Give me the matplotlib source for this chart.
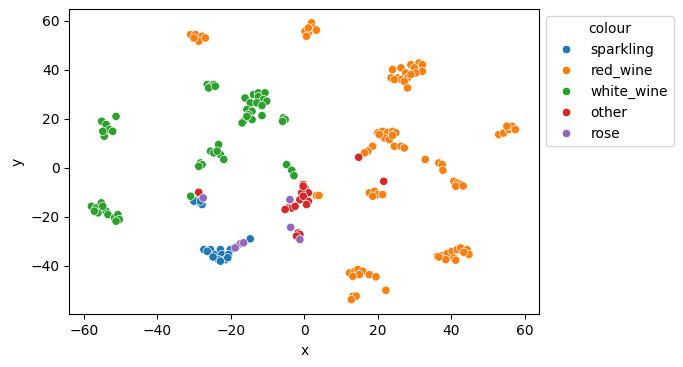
import numpy as np
import pandas as pd
import matplotlib
matplotlib.use("Agg")
import matplotlib.pyplot as plt
import seaborn as sns

categories = ["sparkling", "red_wine", "white_wine", "other", "rose"]

sparkling_x = [-29.6, -28.7, -27.8, -30.0, -28.2, -27.3, -25.5, -26.4, -24.2, -22.8,
               -22.4, -20.1, -20.6, -21.5, -23.3, -22.8, -14.7, -24.8, -20.8]
sparkling_y = [-13.3, -14.1, -15.1, -13.7, -13.7, -33.5, -33.5, -34.2, -35.5, -33.5,
               -35.5, -33.5, -35.5, -37.6, -37.6, -38.2, -29.1, -36.5, -36.8]

red_x = [-30.9, -29.6, -27.8, -28.7, -26.9, -30.0,
         1.1, 0.2, 2.0, 2.4, 3.3, 0.6, 1.1,
         24.0, 26.3, 29.0, 31.2, 32.1, 29.9, 32.1, 30.3, 27.6, 25.4, 23.6, 26.3, 28.1, 29.0, 27.2, 28.1, 24.5,
         20.0, 21.3, 22.7, 24.0, 24.9, 21.8, 23.1, 24.0, 24.5, 26.3, 27.2, 18.6, 17.3, 16.4, 20.4,
         52.9, 54.2, 55.6, 56.5, 57.4, 55.1,
         32.9, 36.6, 37.5, 37.7,
         40.7, 41.6, 42.5, 41.2, 43.2,
         17.7, 19.1, 20.0, 21.3, 18.6,
         3.3, 4.0,
         12.3, 13.7, 14.6, 15.9, 17.7, 19.5, 15.0, 13.2,
         22.2,
         13.2, 14.1, 12.8,
         36.2, 37.5, 38.9, 40.2, 41.6, 42.5, 44.3, 44.8, 43.4, 40.7, 41.2, 38.5, 36.6]
red_y = [54.3, 54.3, 53.6, 51.6, 52.9, 52.9,
         55.0, 55.6, 59.1, 57.0, 56.1, 53.6, 57.0,
         40.0, 40.7, 42.0, 42.7, 42.0, 40.7, 39.3, 38.6, 38.6, 36.6, 36.6, 35.9, 36.6, 38.0, 35.2, 32.5, 35.9,
         14.2, 14.8, 14.4, 14.8, 14.2, 12.1, 11.4, 13.1, 8.7, 8.7, 8.0, 8.7, 6.7, 6.0, 13.5,
         13.5, 14.1, 15.5, 16.9, 15.5, 16.9,
         3.3, 1.9, 1.2, -1.1,
         -5.6, -6.3, -6.9, -7.6, -7.5,
         -10.3, -9.7, -11.0, -11.0, -11.7,
         -11.4, -11.4,
         -43.0, -42.3, -41.6, -42.3, -43.7, -44.6, -43.7, -44.4,
         -50.1,
         -52.5, -52.5, -53.9,
         -36.2, -35.9, -35.1, -34.2, -33.5, -32.8, -33.5, -35.5, -34.6, -36.9, -37.8, -37.6, -36.5]

white_x = [-55.1, -51.2, -53.9, -53.0, -54.4, -52.1, -54.8,
           -57.9, -56.6, -55.2, -56.1, -53.9, -53.4, -51.6, -50.7, -50.3, -51.2, -54.8, -57.1,
           -26.4, -25.5, -24.6, -26.0, -24.2,
           -16.1, -13.8, -12.5, -10.7, -12.5, -11.1, -10.2, -14.7, -12.9, -11.5, -15.6, -14.2,
           -15.2, -11.5, -14.2, -16.5, -16.9, -15.6,
           -5.7, -5.2, -5.9,
           -23.3, -25.5, -24.6, -22.8, -21.9, -23.7,
           -28.2, -27.8, -28.7,
           -4.8, -3.4, -2.8,
           -30.9]
white_y = [18.9, 20.9, 17.6, 15.5, 12.8, 14.8, 14.8,
           -15.8, -16.5, -14.4, -18.5, -17.8, -19.2, -20.5, -19.2, -21.2, -21.9, -15.8, -17.8,
           33.9, 33.2, 33.9, 32.5, 33.2,
           28.4, 29.8, 30.5, 30.5, 28.9, 27.8, 27.1, 26.4, 26.4, 25.3, 23.7, 23.0,
           21.6, 21.2, 19.6, 18.9, 18.2, 20.9,
           20.3, 19.6, 18.9,
           9.4, 6.7, 6.0, 5.3, 3.3, 6.7,
           1.9, 1.2, 0.5,
           1.2, -1.1, -3.3,
           -11.7]

other_x = [-28.7,
           -0.3, 0.2, 1.1, -0.7, -1.2, 1.1, 0.6, -0.3, -4.4, -3.4, -5.2, -2.5, -0.3,
           -1.7, -1.2, -2.1,
           14.8, 21.6]
other_y = [-10.1,
           -6.9, -8.3, -10.3, -10.3, -13.1, -13.8, -15.1, -7.6, -16.5, -16.5, -17.1, -15.8, -11.7,
           -26.7, -27.3, -28.0,
           4.2, -5.6]

rose_x = [-27.5, -3.9, -3.7, -1.2, -18.3, -17.4, -16.5, -18.8]
rose_y = [-12.4, -13.1, -24.4, -29.4, -32.1, -31.1, -30.7, -32.8]

xs = [sparkling_x, red_x, white_x, other_x, rose_x]
ys = [sparkling_y, red_y, white_y, other_y, rose_y]
df = pd.concat([pd.DataFrame({"x": x, "y": y, "colour": c})
                for x, y, c in zip(xs, ys, categories)], ignore_index=True)

fig = plt.figure(figsize=(6.83, 3.67), dpi=100)
ax = fig.add_axes([0.1015, 0.1436, 0.688, 0.831])
sns.scatterplot(data=df, x="x", y="y", hue="colour", hue_order=categories, ax=ax)
ax.set_xlim(-63.9, 63.9)
ax.set_ylim(-59.9, 64.6)
ax.set_xticks([-60, -40, -20, 0, 20, 40, 60])
ax.set_yticks([-40, -20, 0, 20, 40, 60])
ax.legend(title="colour", bbox_to_anchor=(1, 1), loc="upper left")
fig.savefig("out.png", dpi=100)
